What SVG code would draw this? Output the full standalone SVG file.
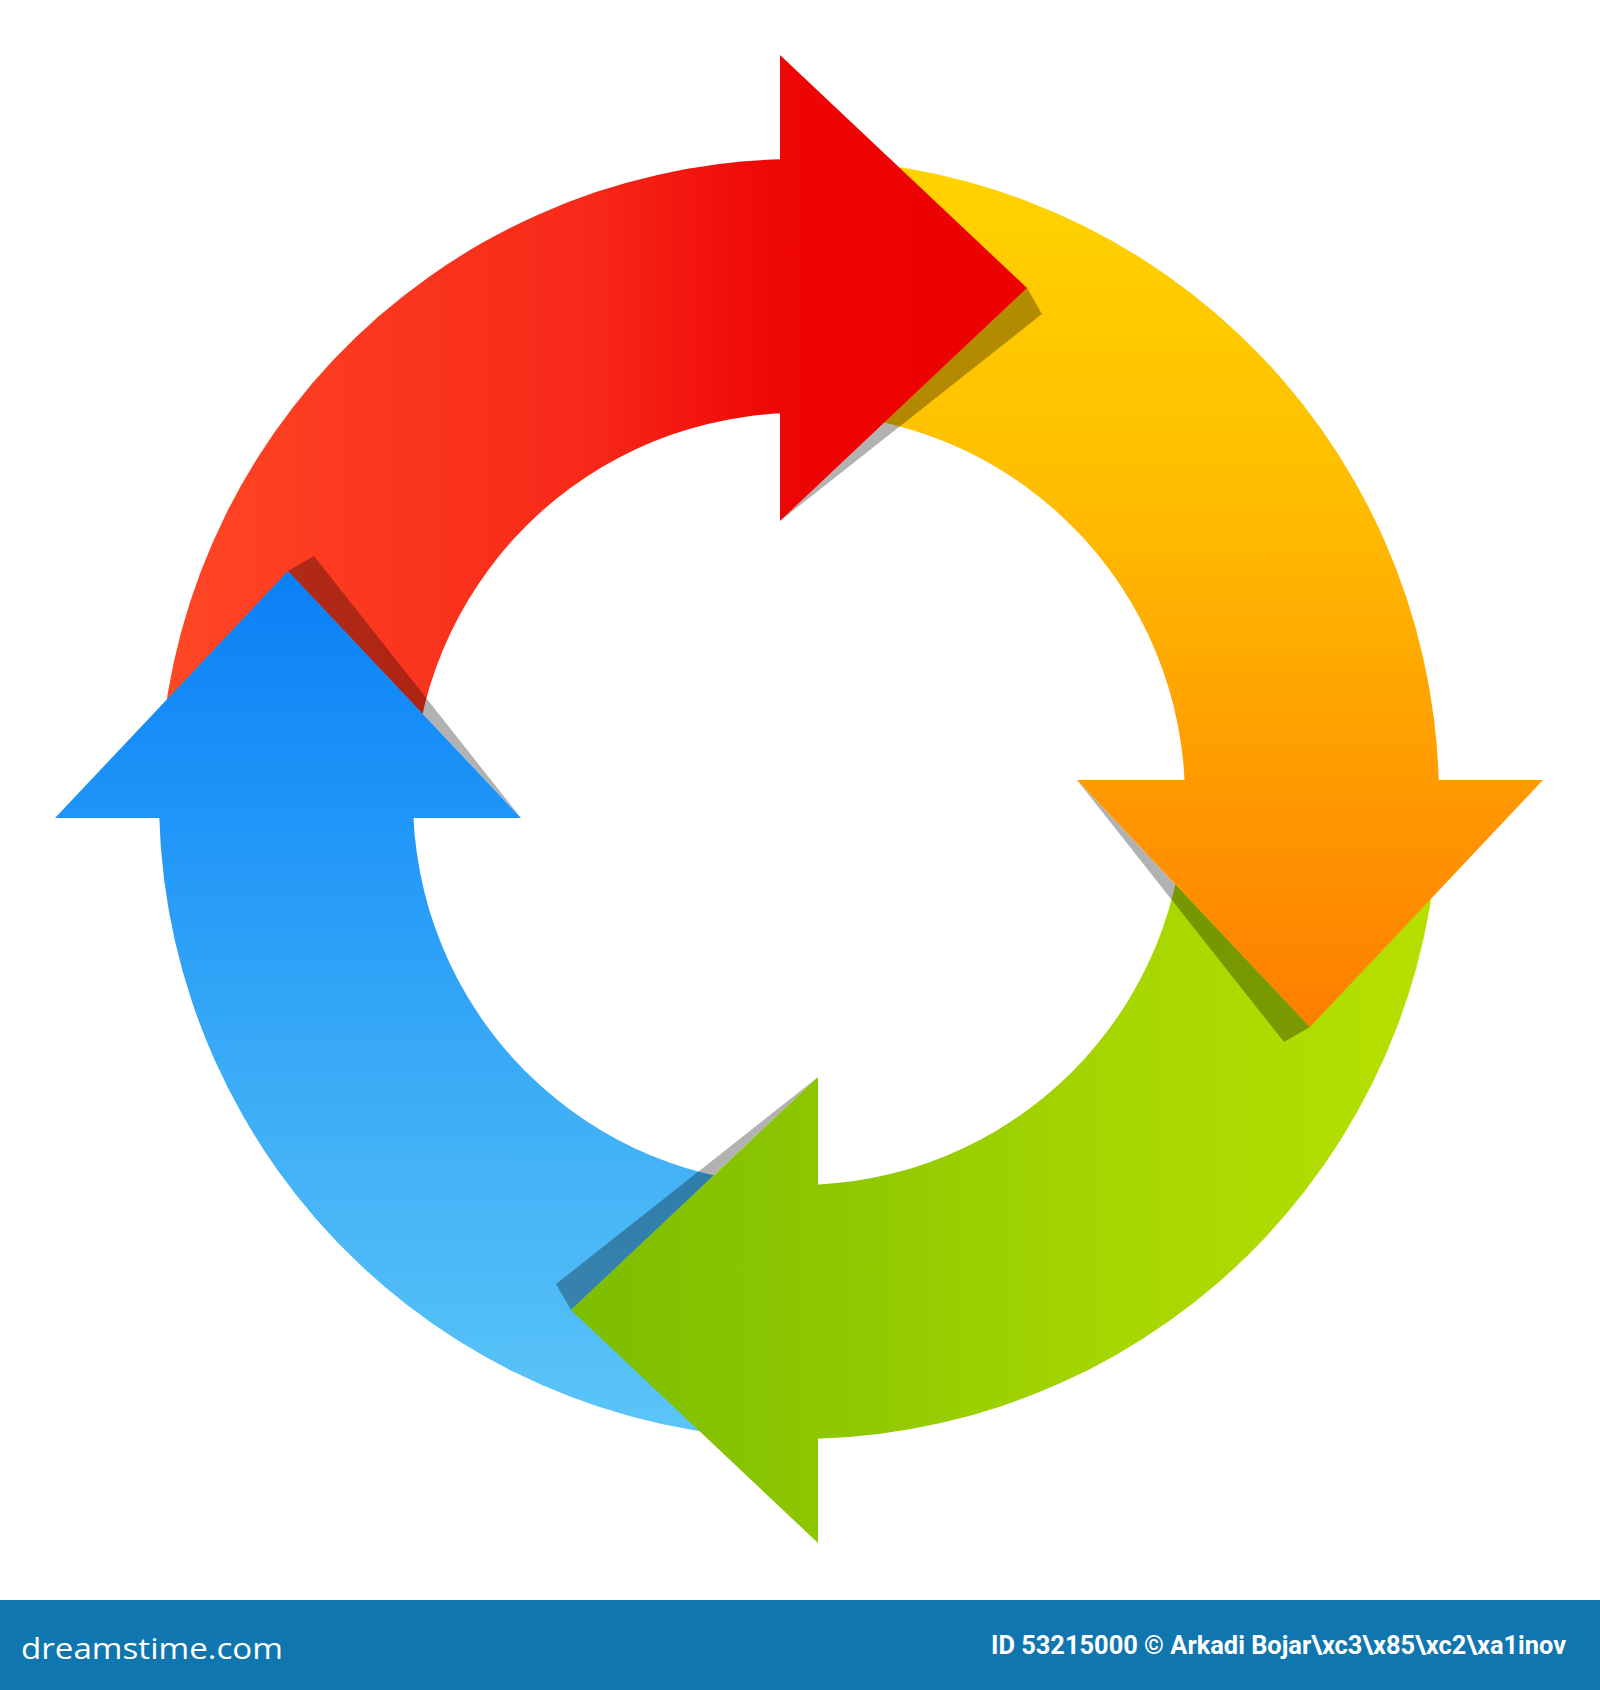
<svg xmlns="http://www.w3.org/2000/svg" xmlns:xlink="http://www.w3.org/1999/xlink" width="1600" height="1690" viewBox="0 0 1600 1690">
  <defs>
    <linearGradient id="gRed" gradientUnits="userSpaceOnUse" x1="159" y1="0" x2="1027" y2="0">
      <stop offset="0" stop-color="#ff4725"/>
      <stop offset="0.5" stop-color="#f72818"/>
      <stop offset="0.72" stop-color="#ee0505"/>
      <stop offset="1" stop-color="#ec0000"/>
    </linearGradient>
    <linearGradient id="gOrange" gradientUnits="userSpaceOnUse" x1="159" y1="0" x2="1027" y2="0">
      <stop offset="0" stop-color="#ffd400"/>
      <stop offset="0.38" stop-color="#ffbe00"/>
      <stop offset="0.72" stop-color="#ff9a00"/>
      <stop offset="1" stop-color="#ff7e00"/>
    </linearGradient>
    <linearGradient id="gGreen" gradientUnits="userSpaceOnUse" x1="159" y1="0" x2="1027" y2="0">
      <stop offset="0" stop-color="#b6e000"/>
      <stop offset="0.38" stop-color="#a6d600"/>
      <stop offset="0.72" stop-color="#8cc600"/>
      <stop offset="1" stop-color="#7dbd00"/>
    </linearGradient>
    <linearGradient id="gBlue" gradientUnits="userSpaceOnUse" x1="159" y1="0" x2="1027" y2="0">
      <stop offset="0" stop-color="#5cc6f8"/>
      <stop offset="0.38" stop-color="#3eaef6"/>
      <stop offset="0.72" stop-color="#1f95f8"/>
      <stop offset="1" stop-color="#0a80f6"/>
    </linearGradient>
  </defs>
  <style>
    .shadow { fill: #000000; fill-opacity: 0.3; }
    .bar-text { fill: #ffffff; }
  </style>
  <rect x="0" y="0" width="1600" height="1690" fill="#ffffff"/>

  <g id="arrow-bands">
    <path id="band-red" fill="url(#gRed)" d="M 159.28 818 A 640 640 0 0 1 782 159.23 L 782 413.37 A 386 386 0 0 0 413.47 818 Z"/>
    <path id="band-orange" fill="url(#gOrange)" transform="rotate(90 799 799)" d="M 159.28 818 A 640 640 0 0 1 782 159.23 L 782 413.37 A 386 386 0 0 0 413.47 818 Z"/>
    <path id="band-green" fill="url(#gGreen)" transform="rotate(180 799 799)" d="M 159.28 818 A 640 640 0 0 1 782 159.23 L 782 413.37 A 386 386 0 0 0 413.47 818 Z"/>
    <path id="band-blue" fill="url(#gBlue)" transform="rotate(270 799 799)" d="M 159.28 818 A 640 640 0 0 1 782 159.23 L 782 413.37 A 386 386 0 0 0 413.47 818 Z"/>
  </g>

  <g id="arrow-shadows">
    <path class="shadow" d="M 1027 288 L 1042 314 L 780 521 Z"/>
    <path class="shadow" transform="rotate(90 799 799)" d="M 1027 288 L 1042 314 L 780 521 Z"/>
    <path class="shadow" transform="rotate(180 799 799)" d="M 1027 288 L 1042 314 L 780 521 Z"/>
    <path class="shadow" transform="rotate(270 799 799)" d="M 1027 288 L 1042 314 L 780 521 Z"/>
  </g>

  <g id="arrow-heads">
    <path id="head-red" fill="url(#gRed)" d="M 780 55 L 1027 288 L 780 521 Z"/>
    <path id="head-orange" fill="url(#gOrange)" transform="rotate(90 799 799)" d="M 780 55 L 1027 288 L 780 521 Z"/>
    <path id="head-green" fill="url(#gGreen)" transform="rotate(180 799 799)" d="M 780 55 L 1027 288 L 780 521 Z"/>
    <path id="head-blue" fill="url(#gBlue)" transform="rotate(270 799 799)" d="M 780 55 L 1027 288 L 780 521 Z"/>
  </g>

  <g id="footer">
    <rect x="0" y="1600" width="1600" height="90" fill="#1076b0"/>
    <text class="bar-text" x="21" y="1659" font-family="'Open Sans', 'DejaVu Sans', sans-serif" font-size="30" textLength="262" lengthAdjust="spacingAndGlyphs">dreamstime.com</text>
    <text class="bar-text" x="991" y="1654" font-family="Roboto, 'Liberation Sans', sans-serif" font-size="26" font-weight="bold" textLength="575" lengthAdjust="spacingAndGlyphs">ID 53215000 © Arkadi Bojar\xc3\x85\xc2\xa1inov</text>
  </g>
</svg>
